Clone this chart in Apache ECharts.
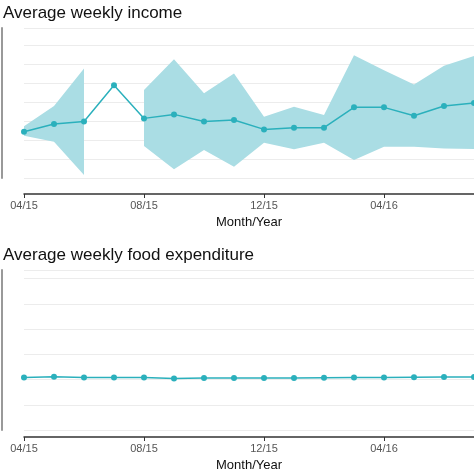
<!DOCTYPE html>
<html>
<head>
<meta charset="utf-8">
<script src="https://cdn.jsdelivr.net/npm/echarts@6/dist/echarts.min.js"></script>
<style>
  html, body, #main { width: 474px; height: 474px; margin: 0; background: #fff; }
</style>
</head>
<body>
<div id="main"></div>
<script>
var months = ['04/15','05/15','06/15','07/15','08/15','09/15','10/15','11/15','12/15','01/16','02/16','03/16','04/16','05/16','06/16','07/16']

// income (gridline units)
var incomeMean  = [2.44, 2.84, 2.98, 4.89, 3.14, 3.35, 2.98, 3.05, 2.56, 2.65, 2.65, 3.72, 3.72, 3.28, 3.79, 3.95]
var incomeLower = [2.23, 1.91, 0.16, '-', 1.68, 0.46, 1.47, 0.59, 1.86, 1.51, 1.86, 0.95, 1.65, 1.65, 1.56, 1.53]
var incomeUpper = [2.72, 3.79, 5.77, '-', 4.63, 6.25, 4.46, 5.51, 3.23, 3.75, 3.32, 6.47, 5.68, 4.93, 5.91, 6.42]

// food expenditure
var foodMean = [2.08, 2.11, 2.08, 2.08, 2.08, 2.04, 2.06, 2.06, 2.06, 2.06, 2.07, 2.08, 2.08, 2.09, 2.1, 2.1]

var teal = '#2bb0bc'
var band = '#aadde4'

var chart = echarts.init(document.getElementById('main'))

var bandDiff = incomeUpper.map(function (u, i) {
  return u === '-' ? '-' : +(u - incomeLower[i]).toFixed(3)
})

function xAxis(idx, off) {
  return {
    type: 'category', gridIndex: idx, data: months, boundaryGap: false, offset: off,
    name: 'Month/Year', nameLocation: 'middle', nameGap: 22,
    nameTextStyle: { color: '#111', fontSize: 13, fontFamily: 'Liberation Sans' },
    axisLine: { onZero: false, lineStyle: { color: '#333', width: 1.5 } },
    axisTick: { interval: 3, length: 4, lineStyle: { color: '#333' } },
    axisLabel: { interval: 3, color: '#555', fontSize: 11, margin: 6, fontFamily: 'Liberation Sans' },
    splitLine: { show: false }
  }
}
function yAxis(idx, max) {
  return {
    type: 'value', gridIndex: idx, min: 0, max: max, interval: 1, offset: 22,
    axisLine: { show: true, onZero: false, lineStyle: { color: '#999', width: 2 } },
    axisTick: { show: false }, axisLabel: { show: false },
    splitLine: { lineStyle: { color: '#ececec', width: 1 } }
  }
}

chart.setOption({
  animation: false,
  title: [
    { text: 'Average weekly income', left: -2, top: 0, textStyle: { fontSize: 17, fontWeight: 'normal', color: '#111', fontFamily: 'Liberation Sans' } },
    { text: 'Average weekly food expenditure', left: -2, top: 242, textStyle: { fontSize: 17, fontWeight: 'normal', color: '#111', fontFamily: 'Liberation Sans' } }
  ],
  grid: [
    { left: 24, width: 473, top: 28, bottom: 296 },
    { left: 24, width: 473, top: 270, bottom: 44 }
  ],
  xAxis: [xAxis(0, 16), xAxis(1, 7)],
  yAxis: [yAxis(0, 7.9), yAxis(1, 6.34)],
  series: [
    { type: 'line', xAxisIndex: 0, yAxisIndex: 0, data: incomeLower, stack: 'b', symbol: 'none',
      lineStyle: { opacity: 0 }, connectNulls: false },
    { type: 'line', xAxisIndex: 0, yAxisIndex: 0, data: bandDiff, stack: 'b', symbol: 'none',
      lineStyle: { opacity: 0 }, areaStyle: { color: band, opacity: 1 }, connectNulls: false },
    { type: 'line', xAxisIndex: 0, yAxisIndex: 0, data: incomeMean, symbol: 'circle', symbolSize: 6,
      itemStyle: { color: teal }, lineStyle: { color: teal, width: 1.5 } },
    { type: 'line', xAxisIndex: 1, yAxisIndex: 1, data: foodMean, symbol: 'circle', symbolSize: 6,
      itemStyle: { color: teal }, lineStyle: { color: teal, width: 1.5 } }
  ]
})
</script>
</body>
</html>
